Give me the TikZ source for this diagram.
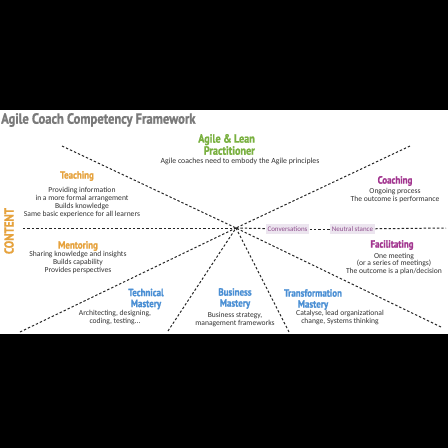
\documentclass[tikz,border=0pt]{standalone}
\usepackage{fontspec}
\setmainfont{Carlito}
\newfontfamily\headfont[FakeStretch=0.85,FakeBold=1.2]{PT Sans Bold}
\usetikzlibrary{positioning}
\definecolor{titlegray}{HTML}{7A7A7A}
\definecolor{leangreen}{HTML}{79B03F}
\definecolor{contentorange}{HTML}{E6A23C}
\definecolor{coachpurple}{HTML}{A2358F}
\definecolor{masteryblue}{HTML}{4A8FD4}
\definecolor{boxfill}{HTML}{ECE5EF}
\definecolor{stancetext}{HTML}{8E4C8C}

\begin{document}
\begin{tikzpicture}[x=1pt,y=-1pt,
  spoke/.style={black!85, line width=1pt, dash pattern=on 2.4pt off 2pt},
  head/.style={font=\headfont\fontsize{10.5}{11}\selectfont, align=center, inner sep=0pt},
  body/.style={font=\fontsize{7.6}{8}\selectfont, align=center, text=black!80, inner sep=0pt},
  stance/.style={fill=boxfill, text=stancetext, font=\fontsize{7}{7}\selectfont,
    minimum height=10pt, inner xsep=2pt, inner ysep=0pt}]
% Frame: black page with white band
\useasboundingbox (0,0) rectangle (448,448);
\fill[black] (0,0) rectangle (448,448);
\fill[white] (0,110) rectangle (448,334);

% Title and side label
\node[anchor=west, inner sep=0pt, text=titlegray, font=\headfont\fontsize{14.8}{14.8}\selectfont] (title) at (1,120) {Agile Coach Competency Framework};
\node[rotate=90, inner sep=0pt, text=contentorange, font=\headfont\fontsize{13}{13}\selectfont] (content) at (9,231) {CONTENT};

% Top
\node[head, align=right, anchor=east, text=leangreen, font=\headfont\fontsize{12}{10}\selectfont] (lean) at (255,144.5) {Agile \& Lean\\Practitioner};
\node[body, font=\fontsize{7.8}{8}\selectfont] (leantxt) at (240,161) {Agile coaches need to embody the Agile principles};

% Left: content
\node[head, text=contentorange] (teach) at (77,176) {Teaching};
\node[body] (teachtxt) at (82,202) {Providing information\\in a more formal arrangement\\Builds knowledge\\Same basic experience for all learners};
\node[head, text=contentorange] (mentor) at (78,246) {Mentoring};
\node[body] (mentortxt) at (78,262) {Sharing knowledge and insights\\Builds capability\\Provides perspectives};

% Right: process
\node[head, text=coachpurple] (coach) at (395,181) {Coaching};
\node[body, font=\fontsize{7.6}{7.5}\selectfont] (coachtxt) at (395,195.5) {Ongoing process\\The outcome is performance};
\node[head, text=coachpurple] (facil) at (392,245) {Facilitating};
\node[body, font=\fontsize{7.6}{7.5}\selectfont] (faciltxt) at (394,263.5) {One meeting\\(or a series of meetings)\\The outcome is a plan/decision};

% Bottom: mastery
\node[head, text=masteryblue] (tech) at (146,299) {Technical\\Mastery};
\node[body] (techtxt) at (115,318) {Architecting, designing,\\coding, testing...};
\node[head, text=masteryblue] (biz) at (235,298.5) {Business\\Mastery};
\node[body] (biztxt) at (235,319.5) {Business strategy,\\management frameworks};
\node[head, text=masteryblue] (trans) at (313,299.5) {Transformation\\Mastery};
\node[body] (transtxt) at (340,318) {Catalyse, lead organizational\\change, Systems thinking};

% Stance boxes
\node[stance] (conv) at (287.5,229) {Conversations};
\node[stance] (neut) at (352.5,229) {Neutral stance};

% Spokes
\coordinate (hub) at (236,228);
\coordinate (ul) at (62,146);
\coordinate (ur) at (410,146);
\coordinate (lt) at (23,228);
\coordinate (rt) at (446,228);
\coordinate (ll) at (20,332);
\coordinate (lr) at (441,327);
\coordinate (bl) at (168,331);
\coordinate (br) at (289,332);
\foreach \e in {ul,ur,lt,ll,lr,bl,br}
  \draw[spoke] (\e) -- (hub);
\draw[spoke] (hub) -- (conv);
\draw[spoke] (conv) -- (neut);
\draw[spoke] (neut) -- (rt);
\end{tikzpicture}
\end{document}
